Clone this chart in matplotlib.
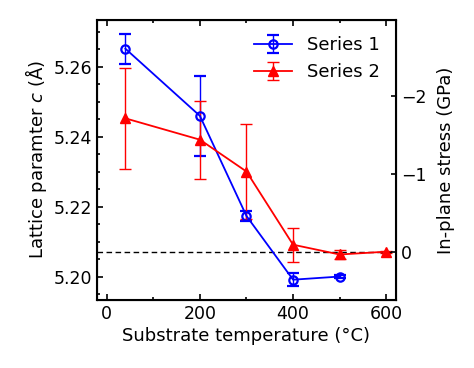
import numpy as np
import matplotlib
matplotlib.use("Agg")
import matplotlib.pyplot as plt
from matplotlib.ticker import MultipleLocator

# data
temp1 = [40, 200, 300, 400, 500]
c1 = [5.2651, 5.2459, 5.2173, 5.1991, 5.2000]
err1 = [0.0043, 0.0115, 0.0013, 0.0018, 0.0005]

temp2 = [40, 200, 300, 400, 500, 600]
c2 = [5.2452, 5.2391, 5.2300, 5.2091, 5.2063, 5.2071]
err2 = [0.0145, 0.0111, 0.0137, 0.0049, 0.0013, 0.0003]

c_ref = 5.2071          # unstrained lattice parameter (zero stress)
a_per_gpa = 0.02229     # change in c per GPa


def to_stress(c):
    return -(c - c_ref) / a_per_gpa


plt.rcParams['font.size'] = 13
fig = plt.figure(figsize=(4.74, 3.68), dpi=100)
ax = fig.add_axes([0.2046, 0.1848, 0.6308, 0.7609])

ax.errorbar(temp1, c1, yerr=err1, color='blue', marker='o', mfc='none', mew=1.6,
            ms=6, lw=1.3, capsize=4, elinewidth=1.0, capthick=1.0, label='Series 1')
ax.errorbar(temp2, c2, yerr=err2, color='red', marker='^', mfc='red', mew=1.0,
            ms=6.5, lw=1.3, capsize=4, elinewidth=1.0, capthick=1.0, label='Series 2')
ax.axhline(c_ref, color='black', ls='--', lw=1.0, dashes=(4, 2.5))

ax.set_xlim(-21, 621)
ax.set_ylim(5.1933, 5.2733)
ax.xaxis.set_major_locator(MultipleLocator(200))
ax.xaxis.set_minor_locator(MultipleLocator(100))
ax.yaxis.set_major_locator(MultipleLocator(0.02))
ax.yaxis.set_minor_locator(MultipleLocator(0.005))
ax.yaxis.set_major_formatter(matplotlib.ticker.FormatStrFormatter('%.2f'))
ax.tick_params(which='both', direction='in', top=True, right=False, width=1.2,
               labelsize=12.5)
ax.tick_params(which='major', length=4.5)
ax.tick_params(which='minor', length=2.5)
for s in ax.spines.values():
    s.set_linewidth(1.5)

ax.set_xlabel('Substrate temperature (°C)', labelpad=3)
ax.set_ylabel('Lattice paramter $c$ (Å)', labelpad=3)

ax2 = ax.twinx()
y0, y1 = ax.get_ylim()
ax2.set_ylim(to_stress(y0), to_stress(y1))
ax2.yaxis.set_major_locator(MultipleLocator(1))
ax2.tick_params(direction='in', length=3.5, width=1.2, labelsize=12.5)
ax2.set_ylabel('In-plane stress (GPa)', labelpad=8)

ax.legend(loc='upper right', frameon=False, handlelength=2.1)

fig.savefig('out.png', dpi=100)
